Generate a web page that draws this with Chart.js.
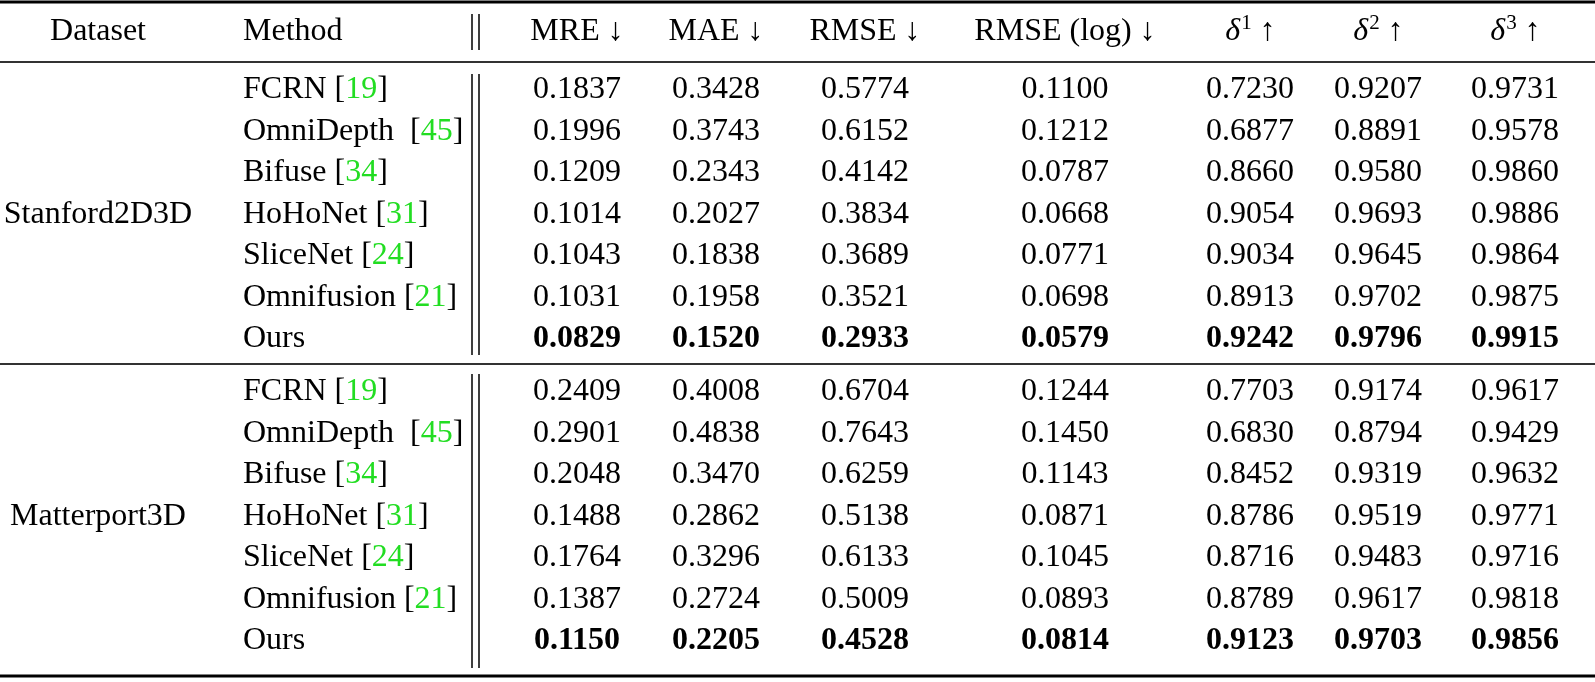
<!DOCTYPE html>
<html>
<head>
<meta charset="utf-8">
<script src="https://cdn.jsdelivr.net/npm/chart.js@4"></script>
<style>
  html, body { margin: 0; padding: 0; background: #fff; }
  #wrap { width: 1595px; height: 682px; }
</style>
</head>
<body>
<div id="wrap"><canvas id="tabela" width="1595" height="682"></canvas></div>
<script>
// dados da tabela
const datasets = ['Stanford2D3D', 'Matterport3D'];
const methods = ['FCRN', 'OmniDepth ', 'Bifuse', 'HoHoNet', 'SliceNet', 'Omnifusion', 'Ours'];
const refs = ['19', '45', '34', '31', '24', '21', ''];
const metrics = ['MRE', 'MAE', 'RMSE', 'RMSE (log)', 'δ1', 'δ2', 'δ3'];
const arrows = ['↓', '↓', '↓', '↓', '↑', '↑', '↑'];

const stanford = [
    ['0.1837', '0.3428', '0.5774', '0.1100', '0.7230', '0.9207', '0.9731'],
    ['0.1996', '0.3743', '0.6152', '0.1212', '0.6877', '0.8891', '0.9578'],
    ['0.1209', '0.2343', '0.4142', '0.0787', '0.8660', '0.9580', '0.9860'],
    ['0.1014', '0.2027', '0.3834', '0.0668', '0.9054', '0.9693', '0.9886'],
    ['0.1043', '0.1838', '0.3689', '0.0771', '0.9034', '0.9645', '0.9864'],
    ['0.1031', '0.1958', '0.3521', '0.0698', '0.8913', '0.9702', '0.9875'],
    ['0.0829', '0.1520', '0.2933', '0.0579', '0.9242', '0.9796', '0.9915']
];
const matterport = [
    ['0.2409', '0.4008', '0.6704', '0.1244', '0.7703', '0.9174', '0.9617'],
    ['0.2901', '0.4838', '0.7643', '0.1450', '0.6830', '0.8794', '0.9429'],
    ['0.2048', '0.3470', '0.6259', '0.1143', '0.8452', '0.9319', '0.9632'],
    ['0.1488', '0.2862', '0.5138', '0.0871', '0.8786', '0.9519', '0.9771'],
    ['0.1764', '0.3296', '0.6133', '0.1045', '0.8716', '0.9483', '0.9716'],
    ['0.1387', '0.2724', '0.5009', '0.0893', '0.8789', '0.9617', '0.9818'],
    ['0.1150', '0.2205', '0.4528', '0.0814', '0.9123', '0.9703', '0.9856']
];

document.addEventListener('DOMContentLoaded', function () {
    const colX = [577, 716, 865, 1065, 1250, 1378, 1515];
    const groupY = [90, 392];
    const rowStep = 41.5;
    const FONT = '"Liberation Serif", "Times New Roman", serif';
    const SZ = '32px ';

    const tablePlugin = {
        id: 'tablePlugin',
        afterDraw(chart) {
            const c = chart.ctx;
            const sx = chart.scales.x, sy = chart.scales.y;
            const X = v => sx.getPixelForValue(v);
            const Y = v => sy.getPixelForValue(v);
            c.save();
            c.fillStyle = '#000';
            c.textBaseline = 'middle';

            function hline(y, w) {
                c.fillRect(X(0), Y(y) - w / 2, X(1595) - X(0), w);
            }
            function vline(x, y0, y1) {
                c.fillRect(X(x) - 0.75, Y(y0), 1.5, Y(y1) - Y(y0));
            }
            hline(2, 3);
            hline(62, 1.6);
            hline(364, 1.6);
            hline(676, 3);
            [[14, 50], [74, 355], [374, 668]].forEach(s => {
                vline(472, s[0], s[1]);
                vline(479, s[0], s[1]);
            });

            c.font = SZ + FONT;
            c.textAlign = 'center';
            c.fillText('Dataset', X(98), Y(32));
            c.textAlign = 'left';
            c.fillText('Method', X(243), Y(32));

            metrics.forEach((m, i) => {
                if (m.startsWith('δ')) {
                    c.font = 'italic ' + SZ + FONT;
                    const w1 = c.measureText('δ').width;
                    c.font = '21px ' + FONT;
                    const w2 = c.measureText(m[1]).width;
                    c.font = SZ + FONT;
                    const w3 = c.measureText(' ' + arrows[i]).width;
                    let x = X(colX[i]) - (w1 + w2 + w3) / 2;
                    c.textAlign = 'left';
                    c.font = 'italic ' + SZ + FONT;
                    c.fillText('δ', x, Y(32));
                    c.font = '21px ' + FONT;
                    c.fillText(m[1], x + w1 + 1, Y(23));
                    c.font = SZ + FONT;
                    c.fillText(' ' + arrows[i], x + w1 + w2 + 1, Y(32));
                } else {
                    c.textAlign = 'center';
                    c.font = SZ + FONT;
                    c.fillText(m + ' ' + arrows[i], X(colX[i]), Y(32));
                }
            });

            [stanford, matterport].forEach((rows, g) => {
                c.font = SZ + FONT;
                c.textAlign = 'center';
                c.fillStyle = '#000';
                c.fillText(datasets[g], X(98), Y(groupY[g] + rowStep * 3));
                rows.forEach((vals, r) => {
                    const y = Y(groupY[g] + rowStep * r);
                    c.textAlign = 'left';
                    c.font = SZ + FONT;
                    let x = X(243);
                    c.fillStyle = '#000';
                    c.fillText(methods[r], x, y);
                    if (refs[r]) {
                        x += c.measureText(methods[r] + ' ').width;
                        c.fillText('[', x, y);
                        x += c.measureText('[').width;
                        c.fillStyle = '#22dd22';
                        c.fillText(refs[r], x, y);
                        x += c.measureText(refs[r]).width;
                        c.fillStyle = '#000';
                        c.fillText(']', x, y);
                    }
                    const best = r === rows.length - 1;
                    c.font = (best ? 'bold ' : '') + SZ + FONT;
                    c.textAlign = 'center';
                    vals.forEach((v, i) => c.fillText(v, X(colX[i]), y));
                });
            });
            c.restore();
        }
    };

    new Chart(document.getElementById('tabela'), {
        type: 'scatter',
        data: { datasets: [{ data: [] }] },
        options: {
            responsive: false,
            animation: false,
            layout: { padding: 0 },
            plugins: { legend: { display: false }, tooltip: { enabled: false } },
            scales: {
                x: { type: 'linear', min: 0, max: 1595, display: false },
                y: { type: 'linear', min: 0, max: 682, reverse: true, display: false }
            }
        },
        plugins: [tablePlugin]
    });
});
</script>
</body>
</html>
